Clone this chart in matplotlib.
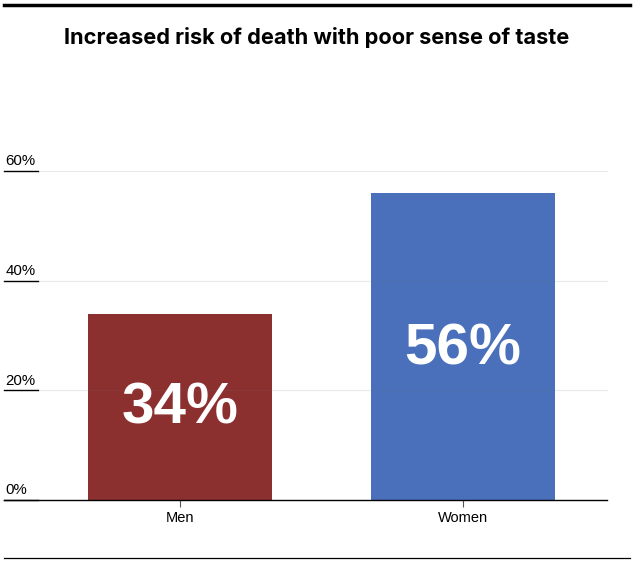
import matplotlib
matplotlib.use("Agg")
from matplotlib import pyplot as plt

# data
categories = ["Men", "Women"]
risk_pct = [34, 56]
bar_colors = ["#8c2f2f", "#4a70bb"]
y_ticks = [0, 20, 40, 60]

W, H = 634, 563
fig = plt.figure(figsize=(W / 100, H / 100), dpi=100)

# axes placed in pixel terms: left 4, right 607, baseline y=500, 60% line y=171
ax = fig.add_axes([4 / W, 1 - 500 / H, (607 - 4) / W, (500 - 171) / H])
ax.set_xlim(-0.622, 1.509)
ax.set_ylim(0, 60)

ax.bar(range(len(categories)), risk_pct, width=0.65, color=bar_colors, zorder=2)

# faint gridlines (drawn over the bars) plus short dark stubs under tick labels
for t in y_ticks[1:]:
    ax.plot([0.06, 1], [t, t], transform=ax.get_yaxis_transform(),
            color="#777777", lw=0.8, alpha=0.15, zorder=3, clip_on=False)
for t in y_ticks:
    ax.plot([0, 0.057], [t, t], transform=ax.get_yaxis_transform(),
            color="black", lw=1, zorder=4, clip_on=False)
    ax.text(0.002, t + 0.5, f"{t}%", transform=ax.get_yaxis_transform(),
            ha="left", va="bottom", fontsize=10.8, family="Liberation Sans")

# value labels inside bars
label_y = [16.6, 27.4]
for i, v in enumerate(risk_pct):
    ax.text(i, label_y[i], f"{v}%", ha="center", va="center", color="white",
            fontsize=42, fontweight="bold", family="Liberation Sans", zorder=5)

for s in ["top", "right", "left"]:
    ax.spines[s].set_visible(False)
ax.spines["bottom"].set_linewidth(1)
ax.set_yticks([])
ax.set_xticks(range(len(categories)))
ax.set_xticklabels(categories, fontsize=10.5, family="Liberation Sans")
ax.tick_params(axis="x", length=5, width=0.8, color="#555555", pad=3)

fig.text(0.5, 1 - 38 / H, "Increased risk of death with poor sense of taste",
         ha="center", va="center", fontsize=15.7, fontweight="bold", family="Inter")

# top and bottom rules
fig.add_artist(plt.Line2D([4 / W, 630 / W], [1 - 5 / H] * 2, color="black", lw=2.5))
fig.add_artist(plt.Line2D([4 / W, 630 / W], [1 - 558 / H] * 2, color="black", lw=0.9))

fig.savefig("out.png", dpi=100, facecolor="white")
